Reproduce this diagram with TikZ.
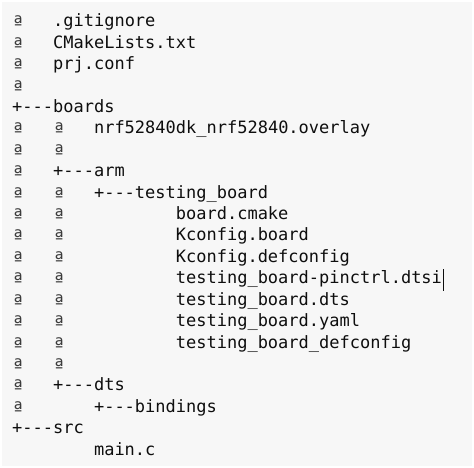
\documentclass[tikz,border=0pt]{standalone}
\usepackage{fontspec}
\setmonofont{DejaVu Sans Mono}
\usepackage{tikz}
\usetikzlibrary{positioning}
\definecolor{paper}{HTML}{F7F7F7}
\definecolor{ink}{HTML}{0E0E0E}
\definecolor{barink}{HTML}{3C3C3C}
\tikzset{entry/.style={
    % text of one line, set on its baseline
    anchor=base west,
    inner sep=0pt,
    text=ink,
    font=\ttfamily\fontsize{17}{20}\selectfont
    },
    bar/.style={
    entry,
    text=barink,
    yshift=-4pt,
    font=\ttfamily\fontsize{20}{22}\selectfont
    },
    cursor/.style={
    draw=ink,
    line width=0.8pt,
    },
}

\begin{document}
\begin{tikzpicture}[x=10.23pt, y=-21.4pt]
    \useasboundingbox (-12pt,27pt) rectangle ++(474pt,-468pt);
    \fill[white] (-12pt,27pt) rectangle ++(474pt,-468pt);
    \fill[paper] (-10pt,25pt) rectangle ++(470pt,-464pt);

    \node (bar1)       [bar]   at (0,0)  {ª};
    \node (gitignore)  [entry] at (4,0)  {.gitignore};
    \node (bar2)       [bar]   at (0,1)  {ª};
    \node (cmakelists) [entry] at (4,1)  {CMakeLists.txt};
    \node (bar3)       [bar]   at (0,2)  {ª};
    \node (prjconf)    [entry] at (4,2)  {prj.conf};
    \node (bar4)       [bar]   at (0,3)  {ª};
    \node (boards)     [entry] at (0,4)  {+---boards};

    \node (bar5)       [bar]   at (0,5)  {ª};
    \node (bar6)       [bar]   at (4,5)  {ª};
    \node (overlay)    [entry] at (8,5)  {nrf52840dk\_nrf52840.overlay};
    \node (bar7)       [bar]   at (0,6)  {ª};
    \node (bar8)       [bar]   at (4,6)  {ª};
    \node (bar9)       [bar]   at (0,7)  {ª};
    \node (arm)        [entry] at (4,7)  {+---arm};
    \node (bar10)      [bar]   at (0,8)  {ª};
    \node (bar11)      [bar]   at (4,8)  {ª};
    \node (tboard)     [entry] at (8,8)  {+---testing\_board};

    \node (bar12)      [bar]   at (0,9)  {ª};
    \node (bar13)      [bar]   at (4,9)  {ª};
    \node (boardcmake) [entry] at (16,9) {board.cmake};
    \node (bar14)      [bar]   at (0,10) {ª};
    \node (bar15)      [bar]   at (4,10) {ª};
    \node (kboard)     [entry] at (16,10) {Kconfig.board};
    \node (bar16)      [bar]   at (0,11) {ª};
    \node (bar17)      [bar]   at (4,11) {ª};
    \node (kdefconfig) [entry] at (16,11) {Kconfig.defconfig};
    \node (bar18)      [bar]   at (0,12) {ª};
    \node (bar19)      [bar]   at (4,12) {ª};
    \node (pinctrl)    [entry] at (16,12) {testing\_board-pinctrl.dtsi};
    \node (bar20)      [bar]   at (0,13) {ª};
    \node (bar21)      [bar]   at (4,13) {ª};
    \node (dtsfile)    [entry] at (16,13) {testing\_board.dts};
    \node (bar22)      [bar]   at (0,14) {ª};
    \node (bar23)      [bar]   at (4,14) {ª};
    \node (yaml)       [entry] at (16,14) {testing\_board.yaml};
    \node (bar24)      [bar]   at (0,15) {ª};
    \node (bar25)      [bar]   at (4,15) {ª};
    \node (defconfig)  [entry] at (16,15) {testing\_board\_defconfig};

    \node (bar26)      [bar]   at (0,16) {ª};
    \node (bar27)      [bar]   at (4,16) {ª};
    \node (bar28)      [bar]   at (0,17) {ª};
    \node (dts)        [entry] at (4,17) {+---dts};
    \node (bar29)      [bar]   at (0,18) {ª};
    \node (bindings)   [entry] at (8,18) {+---bindings};
    \node (src)        [entry] at (0,19) {+---src};
    \node (mainc)      [entry] at (8,20) {main.c};

    % text cursor after the .dtsi line
    \coordinate (caret) at ([xshift=1.5pt]pinctrl.base east);
    \draw[cursor] ([yshift=-7pt]caret) -- ([yshift=15pt]caret);
\end{tikzpicture}
\end{document}
